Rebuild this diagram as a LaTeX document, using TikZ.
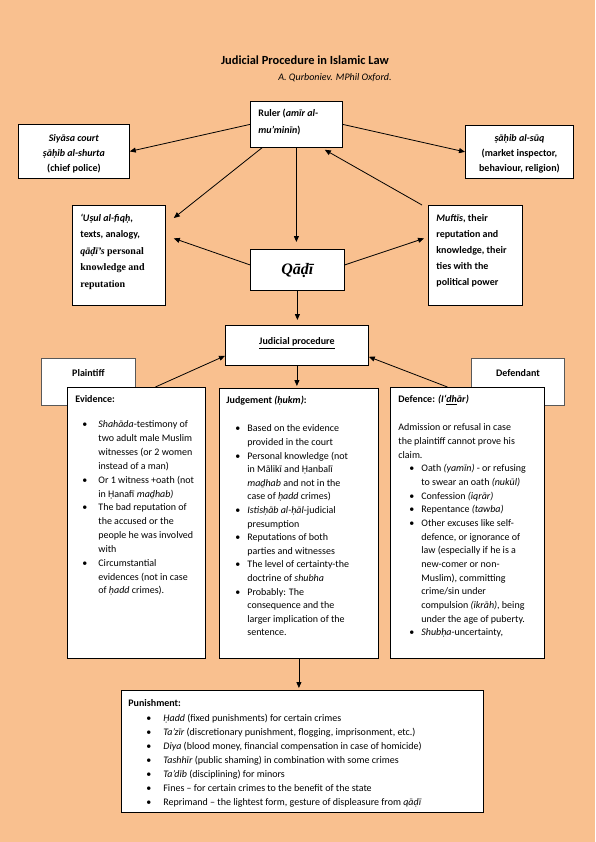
\documentclass[tikz,border=0pt]{standalone}
\usepackage{fontspec}
\setmainfont{Carlito}
\newfontfamily\timesfont{Liberation Serif}
\usetikzlibrary{arrows.meta}
\definecolor{peach}{RGB}{249,192,143}
\definecolor{edgegray}{RGB}{89,89,89}
\newlength\itmoff
\newlength\itmhang
\newcommand{\itm}[1]{\par\hangindent=\itmhang\hangafter=1\noindent\makebox[\itmhang][l]{\hspace{\itmoff}\textbullet}#1\par}
\newcommand{\fl}[1]{\rule{0pt}{#1pt}}
\newcommand{\panel}[4]{\parbox[c][#2pt][t]{#1pt}{\leftskip=#3pt\parindent=0pt\relax#4}}

\begin{document}
\begin{tikzpicture}[
  x=1pt, y=-1pt,
  panel/.style={
    draw,
    fill=white,
    line width=0.8pt,
    inner sep=0pt,
    anchor=north west
  },
  arrow/.style={-{Triangle[length=6pt,width=5pt]}, line width=0.8pt}
]
\fill[peach] (0,0) rectangle (595,842);
\useasboundingbox (0,0) rectangle (595,842);

\node[font=\bfseries\fontsize{12.4}{14}\selectfont] (title) at (305,60) {Judicial Procedure in Islamic Law};
\node[font=\itshape\fontsize{10}{12}\selectfont] (author) at (335,78) {A. Qurboniev. MPhil Oxford.};

\node[panel] (ruler) at (250,101) {\panel{92}{46}{8}{\fontsize{10}{17}\selectfont\bfseries
  \fl{15}Ruler (\textit{amīr al-}\newline\textit{mu’minīn})}};
\node[panel] (siyasa) at (18,124) {\panel{111}{54}{0}{\centering\fontsize{10}{15}\selectfont\bfseries
  \fl{17}\textit{Siyāsa court}\\\textit{ṣāḥib al-shurta}\\(chief police)}};
\node[panel] (suq) at (465,125) {\panel{108}{53}{0}{\centering\fontsize{10}{15}\selectfont\bfseries
  \fl{16}\textit{ṣāḥib al-sūq}\\(market inspector,\\behaviour, religion)}};
\node[panel] (usul) at (72,205) {\panel{93}{100}{8}{\fontsize{10}{16.5}\selectfont\bfseries
  \fl{16}\textit{‘Uṣul al-fiqḥ},\newline texts, analogy,\newline
  {\timesfont\textit{qāḍī’s} personal\newline knowledge and\newline reputation}}};
\node[panel] (mufti) at (428,205) {\panel{94}{100}{8}{\fontsize{10}{16}\selectfont\bfseries
  \fl{16}\textit{Muftīs}, their\newline reputation and\newline knowledge, their\newline ties with the\newline political power}};
\node[panel] (qadi) at (250,249) {\panel{94}{41}{0}{\centering\timesfont\bfseries\itshape\fontsize{16}{18}\selectfont
  \fl{25}Qāḍī}};
\node[panel] (jp) at (225,325) {\panel{143}{40}{0}{\centering\fontsize{10}{12}\selectfont\bfseries
  \fl{19.5}\underline{Judicial procedure}}};
\node[panel, draw=edgegray] (plaintiff) at (41,358) {\panel{94}{47}{0}{\centering\fontsize{10}{12}\selectfont\bfseries
  \fl{18}Plaintiff}};
\node[panel, draw=edgegray] (defendant) at (471,358) {\panel{93}{47}{0}{\centering\fontsize{10}{12}\selectfont\bfseries
  \fl{18}Defendant}};

\node[panel] (evidence) at (67,387) {\panel{138}{271}{8}{\fontsize{10}{13.83}\selectfont
  \setlength\itmoff{7pt}\setlength\itmhang{23pt}%
  \fl{15.5}\textbf{Evidence:}\par\vspace{11.2pt}
  \itm{\textit{Shahāda}-testimony of\newline two adult male Muslim\newline witnesses (or 2 women\newline instead of a man)}
  \itm{Or 1 witness +oath (not\newline in Ḥanafī \textit{maḏhab)}}
  \itm{The bad reputation of\newline the accused or the\newline people he was involved\newline with}
  \itm{Circumstantial\newline evidences (not in case\newline of \textit{ḥadd} crimes).}}};
\node[panel] (judgement) at (219,388) {\panel{159}{270}{7}{\fontsize{10}{13.6}\selectfont
  \setlength\itmoff{9pt}\setlength\itmhang{21pt}%
  \fl{15.5}\textbf{Judgement \textit{(ḥukm)}:}\par\vspace{14.4pt}
  \itm{Based on the evidence\newline provided in the court}
  \itm{Personal knowledge (not\newline in Mālikī and Ḥanbalī\newline \textit{maḏhab} and not in the\newline case of \textit{ḥadd} crimes)}
  \itm{\textit{Istisḥāb al-ḥāl}-judicial\newline presumption}
  \itm{Reputations of both\newline parties and witnesses}
  \itm{The level of certainty-the\newline doctrine of \textit{shubha}}
  \itm{Probably: The\newline consequence and the\newline larger implication of the\newline sentence.}}};
\node[panel] (defence) at (390,387) {\panel{154}{271}{8}{\fontsize{10}{13.67}\selectfont
  \setlength\itmoff{11pt}\setlength\itmhang{23pt}%
  \fl{15.5}\textbf{Defence: \textit{(I‘\underline{dh}ār)}}\par\vspace{14.3pt}
  Admission or refusal in case\newline the plaintiff cannot prove his\newline claim.
  \itm{Oath \textit{(yamīn)} - or refusing\newline to swear an oath \textit{(nukūl)}}
  \itm{Confession \textit{(iqrār)}}
  \itm{Repentance \textit{(tawba)}}
  \itm{Other excuses like self-\newline defence, or ignorance of\newline law (especially if he is a\newline new-comer or non-\newline Muslim), committing\newline crime/sin under\newline compulsion \textit{(ikrāh)}, being\newline under the age of puberty.}
  \itm{\textit{Shubḥa}-uncertainty,}}};
\node[panel] (punishment) at (121,690) {\panel{362}{122}{7}{\fontsize{10}{14}\selectfont
  \setlength\itmoff{18pt}\setlength\itmhang{35pt}%
  \fl{16.5}\textbf{Punishment:}\par\vspace{1pt}
  \itm{\textit{Ḥadd} (fixed punishments) for certain crimes}
  \itm{\textit{Ta’zīr} (discretionary punishment, flogging, imprisonment, etc.)}
  \itm{\textit{Diya} (blood money, financial compensation in case of homicide)}
  \itm{\textit{Tashhīr} (public shaming) in combination with some crimes}
  \itm{\textit{Ta’dīb} (disciplining) for minors}
  \itm{Fines – for certain crimes to the benefit of the state}
  \itm{Reprimand – the lightest form, gesture of displeasure from \textit{qāḍī}}}};

\draw[arrow] (ruler.west) -- (siyasa.east);
\draw[arrow] (ruler.east) -- (suq.west);
\draw[arrow] ([xshift=12pt]ruler.south west) -- ([shift={(8,13)}]usul.north east);
\draw[arrow, shorten >=7pt] (ruler.south) -- (ruler.south |- qadi.north);
\draw[arrow] ([xshift=-6pt]mufti.north west) -- ([shift={(-18,2)}]ruler.south east);
\draw[arrow] ([yshift=5pt]qadi.west) -- ([shift={(8,-17)}]usul.east);
\draw[arrow] ([yshift=5pt]qadi.east) -- ([shift={(-4,-17)}]mufti.west);
\draw[arrow, shorten >=5pt] (qadi.south) -- (qadi.south |- jp.north);
\draw[arrow] ([xshift=19pt]evidence.north) -- ([yshift=10pt]jp.south west);
\draw[arrow] ([xshift=-20pt]defence.north) -- ([yshift=9pt]jp.south east);
\draw[arrow, shorten >=2pt] (jp.south) -- (jp.south |- judgement.north);
\draw[arrow, shorten >=2pt] (judgement.south) -- (judgement.south |- punishment.north);
\end{tikzpicture}
\end{document}
